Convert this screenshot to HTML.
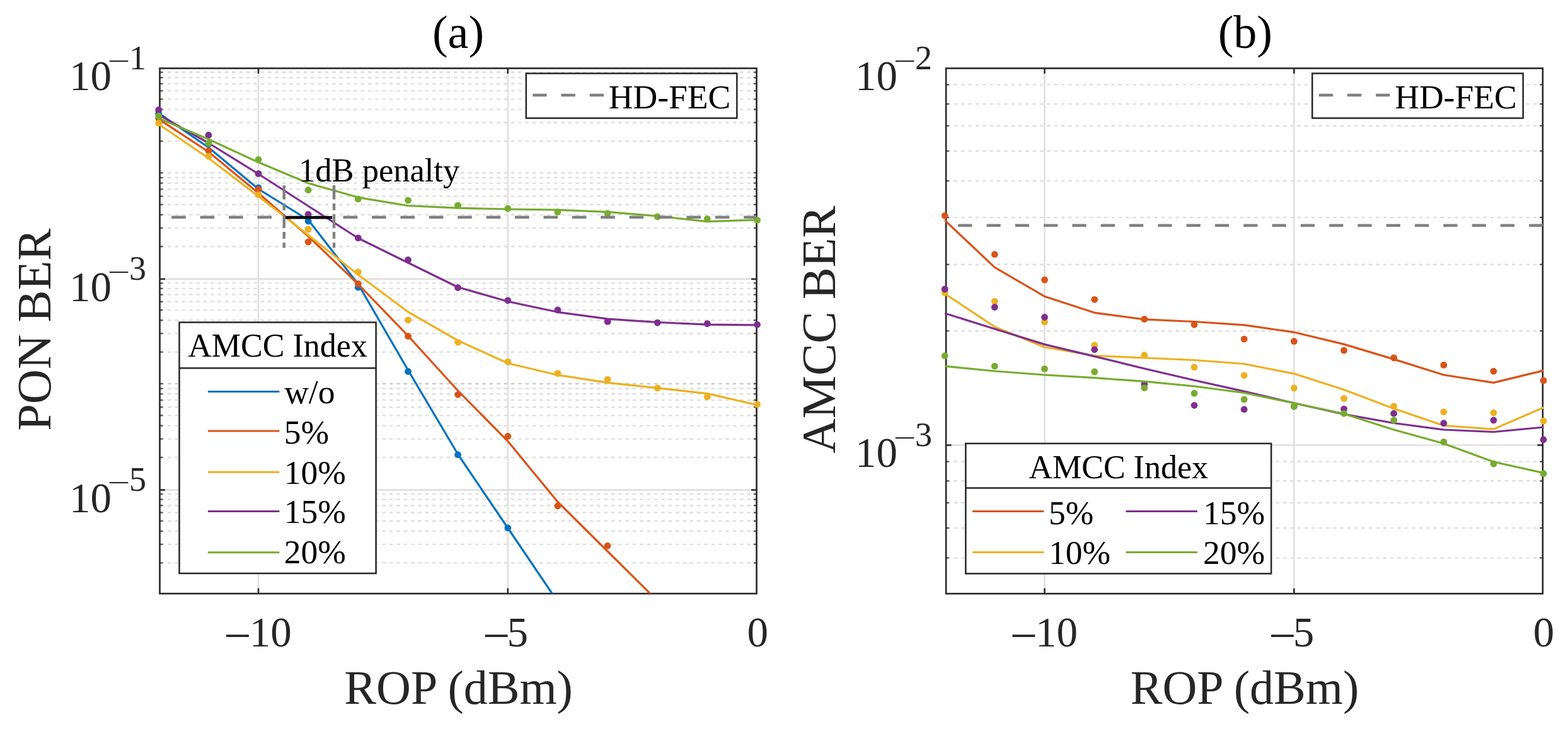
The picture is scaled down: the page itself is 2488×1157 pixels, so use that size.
<!DOCTYPE html>
<html><head><meta charset="utf-8"><title>BER plots</title>
<style>html,body{margin:0;padding:0;background:#fff;} svg{display:block;}</style>
</head><body>
<svg width="2488" height="1157" viewBox="0 0 2488 1157">
<rect width="100%" height="100%" fill="#fff"/>
<defs>
<clipPath id="ca"><rect x="239.5" y="108.4" width="975" height="833.7"/></clipPath>
<clipPath id="ca2"><rect x="253.5" y="108.4" width="947.0" height="833.7"/></clipPath>
<clipPath id="cb"><rect x="1487.1" y="108.4" width="974.8" height="833.8"/></clipPath>
</defs>
<line x1="253.5" y1="893.4" x2="1200.5" y2="893.4" stroke="#dedede" stroke-width="2.4" stroke-dasharray="5.5 5.85" stroke-dashoffset="-1.2"/>
<line x1="253.5" y1="863.9" x2="1200.5" y2="863.9" stroke="#dedede" stroke-width="2.4" stroke-dasharray="5.5 5.85" stroke-dashoffset="-1.2"/>
<line x1="253.5" y1="843" x2="1200.5" y2="843" stroke="#dedede" stroke-width="2.4" stroke-dasharray="5.5 5.85" stroke-dashoffset="-1.2"/>
<line x1="253.5" y1="826.8" x2="1200.5" y2="826.8" stroke="#dedede" stroke-width="2.4" stroke-dasharray="5.5 5.85" stroke-dashoffset="-1.2"/>
<line x1="253.5" y1="813.5" x2="1200.5" y2="813.5" stroke="#dedede" stroke-width="2.4" stroke-dasharray="5.5 5.85" stroke-dashoffset="-1.2"/>
<line x1="253.5" y1="802.3" x2="1200.5" y2="802.3" stroke="#dedede" stroke-width="2.4" stroke-dasharray="5.5 5.85" stroke-dashoffset="-1.2"/>
<line x1="253.5" y1="792.6" x2="1200.5" y2="792.6" stroke="#dedede" stroke-width="2.4" stroke-dasharray="5.5 5.85" stroke-dashoffset="-1.2"/>
<line x1="253.5" y1="784.1" x2="1200.5" y2="784.1" stroke="#dedede" stroke-width="2.4" stroke-dasharray="5.5 5.85" stroke-dashoffset="-1.2"/>
<line x1="253.5" y1="726" x2="1200.5" y2="726" stroke="#dedede" stroke-width="2.4" stroke-dasharray="5.5 5.85" stroke-dashoffset="-1.2"/>
<line x1="253.5" y1="696.6" x2="1200.5" y2="696.6" stroke="#dedede" stroke-width="2.4" stroke-dasharray="5.5 5.85" stroke-dashoffset="-1.2"/>
<line x1="253.5" y1="675.6" x2="1200.5" y2="675.6" stroke="#dedede" stroke-width="2.4" stroke-dasharray="5.5 5.85" stroke-dashoffset="-1.2"/>
<line x1="253.5" y1="659.4" x2="1200.5" y2="659.4" stroke="#dedede" stroke-width="2.4" stroke-dasharray="5.5 5.85" stroke-dashoffset="-1.2"/>
<line x1="253.5" y1="646.2" x2="1200.5" y2="646.2" stroke="#dedede" stroke-width="2.4" stroke-dasharray="5.5 5.85" stroke-dashoffset="-1.2"/>
<line x1="253.5" y1="635" x2="1200.5" y2="635" stroke="#dedede" stroke-width="2.4" stroke-dasharray="5.5 5.85" stroke-dashoffset="-1.2"/>
<line x1="253.5" y1="625.3" x2="1200.5" y2="625.3" stroke="#dedede" stroke-width="2.4" stroke-dasharray="5.5 5.85" stroke-dashoffset="-1.2"/>
<line x1="253.5" y1="616.7" x2="1200.5" y2="616.7" stroke="#dedede" stroke-width="2.4" stroke-dasharray="5.5 5.85" stroke-dashoffset="-1.2"/>
<line x1="253.5" y1="609" x2="1200.5" y2="609" stroke="#cbcbcb" stroke-width="2.4" stroke-dasharray="5.5 5.85" stroke-dashoffset="-1.2"/>
<line x1="253.5" y1="558.7" x2="1200.5" y2="558.7" stroke="#dedede" stroke-width="2.4" stroke-dasharray="5.5 5.85" stroke-dashoffset="-1.2"/>
<line x1="253.5" y1="529.2" x2="1200.5" y2="529.2" stroke="#dedede" stroke-width="2.4" stroke-dasharray="5.5 5.85" stroke-dashoffset="-1.2"/>
<line x1="253.5" y1="508.3" x2="1200.5" y2="508.3" stroke="#dedede" stroke-width="2.4" stroke-dasharray="5.5 5.85" stroke-dashoffset="-1.2"/>
<line x1="253.5" y1="492.1" x2="1200.5" y2="492.1" stroke="#dedede" stroke-width="2.4" stroke-dasharray="5.5 5.85" stroke-dashoffset="-1.2"/>
<line x1="253.5" y1="478.8" x2="1200.5" y2="478.8" stroke="#dedede" stroke-width="2.4" stroke-dasharray="5.5 5.85" stroke-dashoffset="-1.2"/>
<line x1="253.5" y1="467.6" x2="1200.5" y2="467.6" stroke="#dedede" stroke-width="2.4" stroke-dasharray="5.5 5.85" stroke-dashoffset="-1.2"/>
<line x1="253.5" y1="457.9" x2="1200.5" y2="457.9" stroke="#dedede" stroke-width="2.4" stroke-dasharray="5.5 5.85" stroke-dashoffset="-1.2"/>
<line x1="253.5" y1="449.4" x2="1200.5" y2="449.4" stroke="#dedede" stroke-width="2.4" stroke-dasharray="5.5 5.85" stroke-dashoffset="-1.2"/>
<line x1="253.5" y1="391.3" x2="1200.5" y2="391.3" stroke="#dedede" stroke-width="2.4" stroke-dasharray="5.5 5.85" stroke-dashoffset="-1.2"/>
<line x1="253.5" y1="361.9" x2="1200.5" y2="361.9" stroke="#dedede" stroke-width="2.4" stroke-dasharray="5.5 5.85" stroke-dashoffset="-1.2"/>
<line x1="253.5" y1="340.9" x2="1200.5" y2="340.9" stroke="#dedede" stroke-width="2.4" stroke-dasharray="5.5 5.85" stroke-dashoffset="-1.2"/>
<line x1="253.5" y1="324.7" x2="1200.5" y2="324.7" stroke="#dedede" stroke-width="2.4" stroke-dasharray="5.5 5.85" stroke-dashoffset="-1.2"/>
<line x1="253.5" y1="311.5" x2="1200.5" y2="311.5" stroke="#dedede" stroke-width="2.4" stroke-dasharray="5.5 5.85" stroke-dashoffset="-1.2"/>
<line x1="253.5" y1="300.3" x2="1200.5" y2="300.3" stroke="#dedede" stroke-width="2.4" stroke-dasharray="5.5 5.85" stroke-dashoffset="-1.2"/>
<line x1="253.5" y1="290.6" x2="1200.5" y2="290.6" stroke="#dedede" stroke-width="2.4" stroke-dasharray="5.5 5.85" stroke-dashoffset="-1.2"/>
<line x1="253.5" y1="282" x2="1200.5" y2="282" stroke="#dedede" stroke-width="2.4" stroke-dasharray="5.5 5.85" stroke-dashoffset="-1.2"/>
<line x1="253.5" y1="274.3" x2="1200.5" y2="274.3" stroke="#dedede" stroke-width="2.4" stroke-dasharray="5.5 5.85" stroke-dashoffset="-1.2"/>
<line x1="253.5" y1="224" x2="1200.5" y2="224" stroke="#dedede" stroke-width="2.4" stroke-dasharray="5.5 5.85" stroke-dashoffset="-1.2"/>
<line x1="253.5" y1="194.5" x2="1200.5" y2="194.5" stroke="#dedede" stroke-width="2.4" stroke-dasharray="5.5 5.85" stroke-dashoffset="-1.2"/>
<line x1="253.5" y1="173.6" x2="1200.5" y2="173.6" stroke="#dedede" stroke-width="2.4" stroke-dasharray="5.5 5.85" stroke-dashoffset="-1.2"/>
<line x1="253.5" y1="157.4" x2="1200.5" y2="157.4" stroke="#dedede" stroke-width="2.4" stroke-dasharray="5.5 5.85" stroke-dashoffset="-1.2"/>
<line x1="253.5" y1="144.1" x2="1200.5" y2="144.1" stroke="#dedede" stroke-width="2.4" stroke-dasharray="5.5 5.85" stroke-dashoffset="-1.2"/>
<line x1="253.5" y1="132.9" x2="1200.5" y2="132.9" stroke="#dedede" stroke-width="2.4" stroke-dasharray="5.5 5.85" stroke-dashoffset="-1.2"/>
<line x1="253.5" y1="123.2" x2="1200.5" y2="123.2" stroke="#dedede" stroke-width="2.4" stroke-dasharray="5.5 5.85" stroke-dashoffset="-1.2"/>
<line x1="253.5" y1="114.7" x2="1200.5" y2="114.7" stroke="#dedede" stroke-width="2.4" stroke-dasharray="5.5 5.85" stroke-dashoffset="-1.2"/>
<line x1="410" y1="108.4" x2="410" y2="942.1" stroke="#dfdfdf" stroke-width="2.6"/>
<line x1="805.8" y1="108.4" x2="805.8" y2="942.1" stroke="#dfdfdf" stroke-width="2.6"/>
<line x1="253.5" y1="442.9" x2="1200.5" y2="442.9" stroke="#dfdfdf" stroke-width="2.6"/>
<line x1="253.5" y1="777.6" x2="1200.5" y2="777.6" stroke="#dfdfdf" stroke-width="2.6"/>
<line x1="410" y1="942.1" x2="410" y2="933.6" stroke="#262626" stroke-width="2.5"/>
<line x1="410" y1="108.4" x2="410" y2="116.9" stroke="#262626" stroke-width="2.5"/>
<line x1="805.8" y1="942.1" x2="805.8" y2="933.6" stroke="#262626" stroke-width="2.5"/>
<line x1="805.8" y1="108.4" x2="805.8" y2="116.9" stroke="#262626" stroke-width="2.5"/>
<line x1="253.5" y1="442.9" x2="262" y2="442.9" stroke="#262626" stroke-width="2.5"/>
<line x1="1200.5" y1="442.9" x2="1192" y2="442.9" stroke="#262626" stroke-width="2.5"/>
<line x1="253.5" y1="777.6" x2="262" y2="777.6" stroke="#262626" stroke-width="2.5"/>
<line x1="1200.5" y1="777.6" x2="1192" y2="777.6" stroke="#262626" stroke-width="2.5"/>
<line x1="253.5" y1="893.4" x2="258.3" y2="893.4" stroke="#262626" stroke-width="2.3" opacity="0.75"/>
<line x1="1200.5" y1="893.4" x2="1195.7" y2="893.4" stroke="#262626" stroke-width="2.3" opacity="0.75"/>
<line x1="253.5" y1="863.9" x2="258.3" y2="863.9" stroke="#262626" stroke-width="2.3" opacity="0.75"/>
<line x1="1200.5" y1="863.9" x2="1195.7" y2="863.9" stroke="#262626" stroke-width="2.3" opacity="0.75"/>
<line x1="253.5" y1="843" x2="258.3" y2="843" stroke="#262626" stroke-width="2.3" opacity="0.75"/>
<line x1="1200.5" y1="843" x2="1195.7" y2="843" stroke="#262626" stroke-width="2.3" opacity="0.75"/>
<line x1="253.5" y1="826.8" x2="258.3" y2="826.8" stroke="#262626" stroke-width="2.3" opacity="0.75"/>
<line x1="1200.5" y1="826.8" x2="1195.7" y2="826.8" stroke="#262626" stroke-width="2.3" opacity="0.75"/>
<line x1="253.5" y1="813.5" x2="258.3" y2="813.5" stroke="#262626" stroke-width="2.3" opacity="0.75"/>
<line x1="1200.5" y1="813.5" x2="1195.7" y2="813.5" stroke="#262626" stroke-width="2.3" opacity="0.75"/>
<line x1="253.5" y1="802.3" x2="258.3" y2="802.3" stroke="#262626" stroke-width="2.3" opacity="0.75"/>
<line x1="1200.5" y1="802.3" x2="1195.7" y2="802.3" stroke="#262626" stroke-width="2.3" opacity="0.75"/>
<line x1="253.5" y1="792.6" x2="258.3" y2="792.6" stroke="#262626" stroke-width="2.3" opacity="0.75"/>
<line x1="1200.5" y1="792.6" x2="1195.7" y2="792.6" stroke="#262626" stroke-width="2.3" opacity="0.75"/>
<line x1="253.5" y1="784.1" x2="258.3" y2="784.1" stroke="#262626" stroke-width="2.3" opacity="0.75"/>
<line x1="1200.5" y1="784.1" x2="1195.7" y2="784.1" stroke="#262626" stroke-width="2.3" opacity="0.75"/>
<line x1="253.5" y1="726" x2="258.3" y2="726" stroke="#262626" stroke-width="2.3" opacity="0.75"/>
<line x1="1200.5" y1="726" x2="1195.7" y2="726" stroke="#262626" stroke-width="2.3" opacity="0.75"/>
<line x1="253.5" y1="696.6" x2="258.3" y2="696.6" stroke="#262626" stroke-width="2.3" opacity="0.75"/>
<line x1="1200.5" y1="696.6" x2="1195.7" y2="696.6" stroke="#262626" stroke-width="2.3" opacity="0.75"/>
<line x1="253.5" y1="675.6" x2="258.3" y2="675.6" stroke="#262626" stroke-width="2.3" opacity="0.75"/>
<line x1="1200.5" y1="675.6" x2="1195.7" y2="675.6" stroke="#262626" stroke-width="2.3" opacity="0.75"/>
<line x1="253.5" y1="659.4" x2="258.3" y2="659.4" stroke="#262626" stroke-width="2.3" opacity="0.75"/>
<line x1="1200.5" y1="659.4" x2="1195.7" y2="659.4" stroke="#262626" stroke-width="2.3" opacity="0.75"/>
<line x1="253.5" y1="646.2" x2="258.3" y2="646.2" stroke="#262626" stroke-width="2.3" opacity="0.75"/>
<line x1="1200.5" y1="646.2" x2="1195.7" y2="646.2" stroke="#262626" stroke-width="2.3" opacity="0.75"/>
<line x1="253.5" y1="635" x2="258.3" y2="635" stroke="#262626" stroke-width="2.3" opacity="0.75"/>
<line x1="1200.5" y1="635" x2="1195.7" y2="635" stroke="#262626" stroke-width="2.3" opacity="0.75"/>
<line x1="253.5" y1="625.3" x2="258.3" y2="625.3" stroke="#262626" stroke-width="2.3" opacity="0.75"/>
<line x1="1200.5" y1="625.3" x2="1195.7" y2="625.3" stroke="#262626" stroke-width="2.3" opacity="0.75"/>
<line x1="253.5" y1="616.7" x2="258.3" y2="616.7" stroke="#262626" stroke-width="2.3" opacity="0.75"/>
<line x1="1200.5" y1="616.7" x2="1195.7" y2="616.7" stroke="#262626" stroke-width="2.3" opacity="0.75"/>
<line x1="253.5" y1="609" x2="258.3" y2="609" stroke="#262626" stroke-width="2.3" opacity="0.75"/>
<line x1="1200.5" y1="609" x2="1195.7" y2="609" stroke="#262626" stroke-width="2.3" opacity="0.75"/>
<line x1="253.5" y1="558.7" x2="258.3" y2="558.7" stroke="#262626" stroke-width="2.3" opacity="0.75"/>
<line x1="1200.5" y1="558.7" x2="1195.7" y2="558.7" stroke="#262626" stroke-width="2.3" opacity="0.75"/>
<line x1="253.5" y1="529.2" x2="258.3" y2="529.2" stroke="#262626" stroke-width="2.3" opacity="0.75"/>
<line x1="1200.5" y1="529.2" x2="1195.7" y2="529.2" stroke="#262626" stroke-width="2.3" opacity="0.75"/>
<line x1="253.5" y1="508.3" x2="258.3" y2="508.3" stroke="#262626" stroke-width="2.3" opacity="0.75"/>
<line x1="1200.5" y1="508.3" x2="1195.7" y2="508.3" stroke="#262626" stroke-width="2.3" opacity="0.75"/>
<line x1="253.5" y1="492.1" x2="258.3" y2="492.1" stroke="#262626" stroke-width="2.3" opacity="0.75"/>
<line x1="1200.5" y1="492.1" x2="1195.7" y2="492.1" stroke="#262626" stroke-width="2.3" opacity="0.75"/>
<line x1="253.5" y1="478.8" x2="258.3" y2="478.8" stroke="#262626" stroke-width="2.3" opacity="0.75"/>
<line x1="1200.5" y1="478.8" x2="1195.7" y2="478.8" stroke="#262626" stroke-width="2.3" opacity="0.75"/>
<line x1="253.5" y1="467.6" x2="258.3" y2="467.6" stroke="#262626" stroke-width="2.3" opacity="0.75"/>
<line x1="1200.5" y1="467.6" x2="1195.7" y2="467.6" stroke="#262626" stroke-width="2.3" opacity="0.75"/>
<line x1="253.5" y1="457.9" x2="258.3" y2="457.9" stroke="#262626" stroke-width="2.3" opacity="0.75"/>
<line x1="1200.5" y1="457.9" x2="1195.7" y2="457.9" stroke="#262626" stroke-width="2.3" opacity="0.75"/>
<line x1="253.5" y1="449.4" x2="258.3" y2="449.4" stroke="#262626" stroke-width="2.3" opacity="0.75"/>
<line x1="1200.5" y1="449.4" x2="1195.7" y2="449.4" stroke="#262626" stroke-width="2.3" opacity="0.75"/>
<line x1="253.5" y1="391.3" x2="258.3" y2="391.3" stroke="#262626" stroke-width="2.3" opacity="0.75"/>
<line x1="1200.5" y1="391.3" x2="1195.7" y2="391.3" stroke="#262626" stroke-width="2.3" opacity="0.75"/>
<line x1="253.5" y1="361.9" x2="258.3" y2="361.9" stroke="#262626" stroke-width="2.3" opacity="0.75"/>
<line x1="1200.5" y1="361.9" x2="1195.7" y2="361.9" stroke="#262626" stroke-width="2.3" opacity="0.75"/>
<line x1="253.5" y1="340.9" x2="258.3" y2="340.9" stroke="#262626" stroke-width="2.3" opacity="0.75"/>
<line x1="1200.5" y1="340.9" x2="1195.7" y2="340.9" stroke="#262626" stroke-width="2.3" opacity="0.75"/>
<line x1="253.5" y1="324.7" x2="258.3" y2="324.7" stroke="#262626" stroke-width="2.3" opacity="0.75"/>
<line x1="1200.5" y1="324.7" x2="1195.7" y2="324.7" stroke="#262626" stroke-width="2.3" opacity="0.75"/>
<line x1="253.5" y1="311.5" x2="258.3" y2="311.5" stroke="#262626" stroke-width="2.3" opacity="0.75"/>
<line x1="1200.5" y1="311.5" x2="1195.7" y2="311.5" stroke="#262626" stroke-width="2.3" opacity="0.75"/>
<line x1="253.5" y1="300.3" x2="258.3" y2="300.3" stroke="#262626" stroke-width="2.3" opacity="0.75"/>
<line x1="1200.5" y1="300.3" x2="1195.7" y2="300.3" stroke="#262626" stroke-width="2.3" opacity="0.75"/>
<line x1="253.5" y1="290.6" x2="258.3" y2="290.6" stroke="#262626" stroke-width="2.3" opacity="0.75"/>
<line x1="1200.5" y1="290.6" x2="1195.7" y2="290.6" stroke="#262626" stroke-width="2.3" opacity="0.75"/>
<line x1="253.5" y1="282" x2="258.3" y2="282" stroke="#262626" stroke-width="2.3" opacity="0.75"/>
<line x1="1200.5" y1="282" x2="1195.7" y2="282" stroke="#262626" stroke-width="2.3" opacity="0.75"/>
<line x1="253.5" y1="274.3" x2="258.3" y2="274.3" stroke="#262626" stroke-width="2.3" opacity="0.75"/>
<line x1="1200.5" y1="274.3" x2="1195.7" y2="274.3" stroke="#262626" stroke-width="2.3" opacity="0.75"/>
<line x1="253.5" y1="224" x2="258.3" y2="224" stroke="#262626" stroke-width="2.3" opacity="0.75"/>
<line x1="1200.5" y1="224" x2="1195.7" y2="224" stroke="#262626" stroke-width="2.3" opacity="0.75"/>
<line x1="253.5" y1="194.5" x2="258.3" y2="194.5" stroke="#262626" stroke-width="2.3" opacity="0.75"/>
<line x1="1200.5" y1="194.5" x2="1195.7" y2="194.5" stroke="#262626" stroke-width="2.3" opacity="0.75"/>
<line x1="253.5" y1="173.6" x2="258.3" y2="173.6" stroke="#262626" stroke-width="2.3" opacity="0.75"/>
<line x1="1200.5" y1="173.6" x2="1195.7" y2="173.6" stroke="#262626" stroke-width="2.3" opacity="0.75"/>
<line x1="253.5" y1="157.4" x2="258.3" y2="157.4" stroke="#262626" stroke-width="2.3" opacity="0.75"/>
<line x1="1200.5" y1="157.4" x2="1195.7" y2="157.4" stroke="#262626" stroke-width="2.3" opacity="0.75"/>
<line x1="253.5" y1="144.1" x2="258.3" y2="144.1" stroke="#262626" stroke-width="2.3" opacity="0.75"/>
<line x1="1200.5" y1="144.1" x2="1195.7" y2="144.1" stroke="#262626" stroke-width="2.3" opacity="0.75"/>
<line x1="253.5" y1="132.9" x2="258.3" y2="132.9" stroke="#262626" stroke-width="2.3" opacity="0.75"/>
<line x1="1200.5" y1="132.9" x2="1195.7" y2="132.9" stroke="#262626" stroke-width="2.3" opacity="0.75"/>
<line x1="253.5" y1="123.2" x2="258.3" y2="123.2" stroke="#262626" stroke-width="2.3" opacity="0.75"/>
<line x1="1200.5" y1="123.2" x2="1195.7" y2="123.2" stroke="#262626" stroke-width="2.3" opacity="0.75"/>
<line x1="253.5" y1="114.7" x2="258.3" y2="114.7" stroke="#262626" stroke-width="2.3" opacity="0.75"/>
<line x1="1200.5" y1="114.7" x2="1195.7" y2="114.7" stroke="#262626" stroke-width="2.3" opacity="0.75"/>
<rect x="253.5" y="108.4" width="947" height="833.7" fill="none" stroke="#262626" stroke-width="2.6"/>
<g clip-path="url(#ca)">
<circle cx="251.7" cy="180.5" r="5.4" fill="#0072BD"/>
<circle cx="330.9" cy="229" r="5.4" fill="#0072BD"/>
<circle cx="410" cy="298" r="5.4" fill="#0072BD"/>
<circle cx="489.1" cy="351" r="5.4" fill="#0072BD"/>
<circle cx="568.3" cy="456" r="5.4" fill="#0072BD"/>
<circle cx="647.5" cy="589.5" r="5.4" fill="#0072BD"/>
<circle cx="726.6" cy="721.7" r="5.4" fill="#0072BD"/>
<circle cx="805.8" cy="837.8" r="5.4" fill="#0072BD"/>
<polyline points="251.7,179.5 330.9,234 410,300 489.1,349 568.3,451 647.5,587.5 726.6,721 805.8,838 884.9,955" fill="none" stroke="#0072BD" stroke-width="3.2" stroke-linejoin="round"/>
</g>
<g clip-path="url(#ca)">
<circle cx="251.7" cy="187.5" r="5.4" fill="#D95319"/>
<circle cx="330.9" cy="239.3" r="5.4" fill="#D95319"/>
<circle cx="410" cy="300.7" r="5.4" fill="#D95319"/>
<circle cx="489.1" cy="384" r="5.4" fill="#D95319"/>
<circle cx="568.3" cy="450.4" r="5.4" fill="#D95319"/>
<circle cx="647.5" cy="533.5" r="5.4" fill="#D95319"/>
<circle cx="726.6" cy="626.3" r="5.4" fill="#D95319"/>
<circle cx="805.8" cy="692.5" r="5.4" fill="#D95319"/>
<circle cx="884.9" cy="803" r="5.4" fill="#D95319"/>
<circle cx="964.1" cy="866.2" r="5.4" fill="#D95319"/>
<polyline points="251.7,189 330.9,241 410,306.5 489.1,375 568.3,451 647.5,533 726.6,620 805.8,700.3 884.9,796.5 964.1,875 1043.2,953.5" fill="none" stroke="#D95319" stroke-width="3.2" stroke-linejoin="round"/>
</g>
<g clip-path="url(#ca)">
<circle cx="251.7" cy="195.4" r="5.4" fill="#EDB120"/>
<circle cx="330.9" cy="248" r="5.4" fill="#EDB120"/>
<circle cx="410" cy="309" r="5.4" fill="#EDB120"/>
<circle cx="489.1" cy="364" r="5.4" fill="#EDB120"/>
<circle cx="568.3" cy="431.7" r="5.4" fill="#EDB120"/>
<circle cx="647.5" cy="508" r="5.4" fill="#EDB120"/>
<circle cx="726.6" cy="543.3" r="5.4" fill="#EDB120"/>
<circle cx="805.8" cy="574.2" r="5.4" fill="#EDB120"/>
<circle cx="884.9" cy="592.6" r="5.4" fill="#EDB120"/>
<circle cx="964.1" cy="602.1" r="5.4" fill="#EDB120"/>
<circle cx="1043.2" cy="615.9" r="5.4" fill="#EDB120"/>
<circle cx="1122.3" cy="629.7" r="5.4" fill="#EDB120"/>
<circle cx="1201.5" cy="641.8" r="5.4" fill="#EDB120"/>
<polyline points="251.7,197 330.9,251 410,311.5 489.1,373 568.3,436 647.5,495 726.6,540.5 805.8,576.5 884.9,595.2 964.1,607.3 1043.2,615.9 1122.3,624.6 1201.5,642.7" fill="none" stroke="#EDB120" stroke-width="3.2" stroke-linejoin="round"/>
</g>
<g clip-path="url(#ca)">
<circle cx="251.7" cy="174.5" r="5.4" fill="#7E2F8E"/>
<circle cx="330.9" cy="214.5" r="5.4" fill="#7E2F8E"/>
<circle cx="410" cy="275.6" r="5.4" fill="#7E2F8E"/>
<circle cx="489.1" cy="340.2" r="5.4" fill="#7E2F8E"/>
<circle cx="568.3" cy="377.6" r="5.4" fill="#7E2F8E"/>
<circle cx="647.5" cy="412.5" r="5.4" fill="#7E2F8E"/>
<circle cx="726.6" cy="456.5" r="5.4" fill="#7E2F8E"/>
<circle cx="805.8" cy="476.8" r="5.4" fill="#7E2F8E"/>
<circle cx="884.9" cy="492" r="5.4" fill="#7E2F8E"/>
<circle cx="964.1" cy="510.4" r="5.4" fill="#7E2F8E"/>
<circle cx="1043.2" cy="512.1" r="5.4" fill="#7E2F8E"/>
<circle cx="1122.3" cy="513.6" r="5.4" fill="#7E2F8E"/>
<circle cx="1201.5" cy="515.2" r="5.4" fill="#7E2F8E"/>
<polyline points="251.7,182 330.9,227 410,276 489.1,327 568.3,378 647.5,417 726.6,455.8 805.8,478.5 884.9,495.3 964.1,506.1 1043.2,511.5 1122.3,515.2 1201.5,515.8" fill="none" stroke="#7E2F8E" stroke-width="3.2" stroke-linejoin="round"/>
</g>
<g clip-path="url(#ca)">
<circle cx="251.7" cy="184.2" r="5.4" fill="#77AC30"/>
<circle cx="330.9" cy="227.4" r="5.4" fill="#77AC30"/>
<circle cx="410" cy="253.2" r="5.4" fill="#77AC30"/>
<circle cx="489.1" cy="301.5" r="5.4" fill="#77AC30"/>
<circle cx="568.3" cy="315.9" r="5.4" fill="#77AC30"/>
<circle cx="647.5" cy="318" r="5.4" fill="#77AC30"/>
<circle cx="726.6" cy="326" r="5.4" fill="#77AC30"/>
<circle cx="805.8" cy="331" r="5.4" fill="#77AC30"/>
<circle cx="884.9" cy="336.5" r="5.4" fill="#77AC30"/>
<circle cx="964.1" cy="338.6" r="5.4" fill="#77AC30"/>
<circle cx="1043.2" cy="344" r="5.4" fill="#77AC30"/>
<circle cx="1122.3" cy="347.3" r="5.4" fill="#77AC30"/>
<circle cx="1201.5" cy="349.4" r="5.4" fill="#77AC30"/>
<polyline points="251.7,187.7 330.9,221 410,257.6 489.1,290.8 568.3,313.3 647.5,326.5 726.6,330.2 805.8,332 884.9,333.2 964.1,336.3 1043.2,343 1122.3,351.6 1201.5,348.8" fill="none" stroke="#77AC30" stroke-width="3.2" stroke-linejoin="round"/>
</g>
<g clip-path="url(#ca2)"><line x1="249.6" y1="344.8" x2="1205" y2="344.8" stroke="#808080" stroke-width="4.4" stroke-dasharray="22.6 22.8" stroke-dashoffset="22.8"/></g>
<line x1="450.7" y1="294.1" x2="450.7" y2="316.6" stroke="#808080" stroke-width="4.4"/>
<line x1="450.7" y1="322.9" x2="450.7" y2="333.8" stroke="#808080" stroke-width="4.4"/>
<line x1="450.7" y1="340.0" x2="450.7" y2="361.8" stroke="#808080" stroke-width="4.4"/>
<line x1="450.7" y1="368.0" x2="450.7" y2="378.9" stroke="#808080" stroke-width="4.4"/>
<line x1="450.7" y1="385.1" x2="450.7" y2="393.4" stroke="#808080" stroke-width="4.4"/>
<line x1="530.0" y1="294.1" x2="530.0" y2="316.6" stroke="#808080" stroke-width="4.4"/>
<line x1="530.0" y1="322.9" x2="530.0" y2="333.8" stroke="#808080" stroke-width="4.4"/>
<line x1="530.0" y1="340.0" x2="530.0" y2="361.8" stroke="#808080" stroke-width="4.4"/>
<line x1="530.0" y1="368.0" x2="530.0" y2="378.9" stroke="#808080" stroke-width="4.4"/>
<line x1="530.0" y1="385.1" x2="530.0" y2="393.4" stroke="#808080" stroke-width="4.4"/>
<line x1="453" y1="345.2" x2="527" y2="345.2" stroke="#000" stroke-width="4.6"/>
<text x="474" y="287.8" font-size="52.5" fill="#000" font-family="Liberation Serif, 'Times New Roman', serif">1dB penalty</text>
<line x1="1501.1" y1="885.4" x2="2447.9" y2="885.4" stroke="#dedede" stroke-width="2.4" stroke-dasharray="5.5 5.85" stroke-dashoffset="-1.2"/>
<line x1="1501.1" y1="838" x2="2447.9" y2="838" stroke="#dedede" stroke-width="2.4" stroke-dasharray="5.5 5.85" stroke-dashoffset="-1.2"/>
<line x1="1501.1" y1="798" x2="2447.9" y2="798" stroke="#dedede" stroke-width="2.4" stroke-dasharray="5.5 5.85" stroke-dashoffset="-1.2"/>
<line x1="1501.1" y1="763.3" x2="2447.9" y2="763.3" stroke="#dedede" stroke-width="2.4" stroke-dasharray="5.5 5.85" stroke-dashoffset="-1.2"/>
<line x1="1501.1" y1="732.7" x2="2447.9" y2="732.7" stroke="#dedede" stroke-width="2.4" stroke-dasharray="5.5 5.85" stroke-dashoffset="-1.2"/>
<line x1="1501.1" y1="525.2" x2="2447.9" y2="525.2" stroke="#dedede" stroke-width="2.4" stroke-dasharray="5.5 5.85" stroke-dashoffset="-1.2"/>
<line x1="1501.1" y1="419.8" x2="2447.9" y2="419.8" stroke="#dedede" stroke-width="2.4" stroke-dasharray="5.5 5.85" stroke-dashoffset="-1.2"/>
<line x1="1501.1" y1="345.1" x2="2447.9" y2="345.1" stroke="#dedede" stroke-width="2.4" stroke-dasharray="5.5 5.85" stroke-dashoffset="-1.2"/>
<line x1="1501.1" y1="287.1" x2="2447.9" y2="287.1" stroke="#dedede" stroke-width="2.4" stroke-dasharray="5.5 5.85" stroke-dashoffset="-1.2"/>
<line x1="1501.1" y1="239.7" x2="2447.9" y2="239.7" stroke="#dedede" stroke-width="2.4" stroke-dasharray="5.5 5.85" stroke-dashoffset="-1.2"/>
<line x1="1501.1" y1="199.7" x2="2447.9" y2="199.7" stroke="#dedede" stroke-width="2.4" stroke-dasharray="5.5 5.85" stroke-dashoffset="-1.2"/>
<line x1="1501.1" y1="165" x2="2447.9" y2="165" stroke="#dedede" stroke-width="2.4" stroke-dasharray="5.5 5.85" stroke-dashoffset="-1.2"/>
<line x1="1501.1" y1="134.4" x2="2447.9" y2="134.4" stroke="#dedede" stroke-width="2.4" stroke-dasharray="5.5 5.85" stroke-dashoffset="-1.2"/>
<line x1="1657.5" y1="108.4" x2="1657.5" y2="942.2" stroke="#dfdfdf" stroke-width="2.6"/>
<line x1="2053.3" y1="108.4" x2="2053.3" y2="942.2" stroke="#dfdfdf" stroke-width="2.6"/>
<line x1="1501.1" y1="706.5" x2="2447.9" y2="706.5" stroke="#dfdfdf" stroke-width="2.6"/>
<line x1="1657.5" y1="942.2" x2="1657.5" y2="933.7" stroke="#262626" stroke-width="2.5"/>
<line x1="1657.5" y1="108.4" x2="1657.5" y2="116.9" stroke="#262626" stroke-width="2.5"/>
<line x1="2053.3" y1="942.2" x2="2053.3" y2="933.7" stroke="#262626" stroke-width="2.5"/>
<line x1="2053.3" y1="108.4" x2="2053.3" y2="116.9" stroke="#262626" stroke-width="2.5"/>
<line x1="1501.1" y1="706.5" x2="1509.6" y2="706.5" stroke="#262626" stroke-width="2.5"/>
<line x1="2447.9" y1="706.5" x2="2439.4" y2="706.5" stroke="#262626" stroke-width="2.5"/>
<line x1="1501.1" y1="885.4" x2="1505.9" y2="885.4" stroke="#262626" stroke-width="2.3" opacity="0.75"/>
<line x1="2447.9" y1="885.4" x2="2443.1" y2="885.4" stroke="#262626" stroke-width="2.3" opacity="0.75"/>
<line x1="1501.1" y1="838" x2="1505.9" y2="838" stroke="#262626" stroke-width="2.3" opacity="0.75"/>
<line x1="2447.9" y1="838" x2="2443.1" y2="838" stroke="#262626" stroke-width="2.3" opacity="0.75"/>
<line x1="1501.1" y1="798" x2="1505.9" y2="798" stroke="#262626" stroke-width="2.3" opacity="0.75"/>
<line x1="2447.9" y1="798" x2="2443.1" y2="798" stroke="#262626" stroke-width="2.3" opacity="0.75"/>
<line x1="1501.1" y1="763.3" x2="1505.9" y2="763.3" stroke="#262626" stroke-width="2.3" opacity="0.75"/>
<line x1="2447.9" y1="763.3" x2="2443.1" y2="763.3" stroke="#262626" stroke-width="2.3" opacity="0.75"/>
<line x1="1501.1" y1="732.7" x2="1505.9" y2="732.7" stroke="#262626" stroke-width="2.3" opacity="0.75"/>
<line x1="2447.9" y1="732.7" x2="2443.1" y2="732.7" stroke="#262626" stroke-width="2.3" opacity="0.75"/>
<line x1="1501.1" y1="525.2" x2="1505.9" y2="525.2" stroke="#262626" stroke-width="2.3" opacity="0.75"/>
<line x1="2447.9" y1="525.2" x2="2443.1" y2="525.2" stroke="#262626" stroke-width="2.3" opacity="0.75"/>
<line x1="1501.1" y1="419.8" x2="1505.9" y2="419.8" stroke="#262626" stroke-width="2.3" opacity="0.75"/>
<line x1="2447.9" y1="419.8" x2="2443.1" y2="419.8" stroke="#262626" stroke-width="2.3" opacity="0.75"/>
<line x1="1501.1" y1="345.1" x2="1505.9" y2="345.1" stroke="#262626" stroke-width="2.3" opacity="0.75"/>
<line x1="2447.9" y1="345.1" x2="2443.1" y2="345.1" stroke="#262626" stroke-width="2.3" opacity="0.75"/>
<line x1="1501.1" y1="287.1" x2="1505.9" y2="287.1" stroke="#262626" stroke-width="2.3" opacity="0.75"/>
<line x1="2447.9" y1="287.1" x2="2443.1" y2="287.1" stroke="#262626" stroke-width="2.3" opacity="0.75"/>
<line x1="1501.1" y1="239.7" x2="1505.9" y2="239.7" stroke="#262626" stroke-width="2.3" opacity="0.75"/>
<line x1="2447.9" y1="239.7" x2="2443.1" y2="239.7" stroke="#262626" stroke-width="2.3" opacity="0.75"/>
<line x1="1501.1" y1="199.7" x2="1505.9" y2="199.7" stroke="#262626" stroke-width="2.3" opacity="0.75"/>
<line x1="2447.9" y1="199.7" x2="2443.1" y2="199.7" stroke="#262626" stroke-width="2.3" opacity="0.75"/>
<line x1="1501.1" y1="165" x2="1505.9" y2="165" stroke="#262626" stroke-width="2.3" opacity="0.75"/>
<line x1="2447.9" y1="165" x2="2443.1" y2="165" stroke="#262626" stroke-width="2.3" opacity="0.75"/>
<line x1="1501.1" y1="134.4" x2="1505.9" y2="134.4" stroke="#262626" stroke-width="2.3" opacity="0.75"/>
<line x1="2447.9" y1="134.4" x2="2443.1" y2="134.4" stroke="#262626" stroke-width="2.3" opacity="0.75"/>
<rect x="1501.1" y="108.4" width="946.8" height="833.8" fill="none" stroke="#262626" stroke-width="2.6"/>
<g clip-path="url(#cb)">
<circle cx="1499.2" cy="342.3" r="5.4" fill="#D95319"/>
<circle cx="1578.3" cy="403.7" r="5.4" fill="#D95319"/>
<circle cx="1657.5" cy="444.1" r="5.4" fill="#D95319"/>
<circle cx="1736.7" cy="475.3" r="5.4" fill="#D95319"/>
<circle cx="1815.8" cy="506.5" r="5.4" fill="#D95319"/>
<circle cx="1895" cy="515.3" r="5.4" fill="#D95319"/>
<circle cx="1974.1" cy="538.1" r="5.4" fill="#D95319"/>
<circle cx="2053.3" cy="541.6" r="5.4" fill="#D95319"/>
<circle cx="2132.5" cy="556.1" r="5.4" fill="#D95319"/>
<circle cx="2211.6" cy="568" r="5.4" fill="#D95319"/>
<circle cx="2290.8" cy="579.4" r="5.4" fill="#D95319"/>
<circle cx="2369.9" cy="589.2" r="5.4" fill="#D95319"/>
<circle cx="2449.1" cy="603.9" r="5.4" fill="#D95319"/>
<polyline points="1499.2,349.6 1578.3,424.4 1657.5,470.4 1736.7,496.3 1815.8,506.8 1895,510.5 1974.1,515.8 2053.3,527.3 2132.5,546.4 2211.6,570.1 2290.8,595 2369.9,607.4 2449.1,588.1" fill="none" stroke="#D95319" stroke-width="3.2" stroke-linejoin="round"/>
</g>
<g clip-path="url(#cb)">
<circle cx="1499.2" cy="464.5" r="5.4" fill="#EDB120"/>
<circle cx="1578.3" cy="478.3" r="5.4" fill="#EDB120"/>
<circle cx="1657.5" cy="511" r="5.4" fill="#EDB120"/>
<circle cx="1736.7" cy="548" r="5.4" fill="#EDB120"/>
<circle cx="1815.8" cy="563.7" r="5.4" fill="#EDB120"/>
<circle cx="1895" cy="582.7" r="5.4" fill="#EDB120"/>
<circle cx="1974.1" cy="595.8" r="5.4" fill="#EDB120"/>
<circle cx="2053.3" cy="615.9" r="5.4" fill="#EDB120"/>
<circle cx="2132.5" cy="632.5" r="5.4" fill="#EDB120"/>
<circle cx="2211.6" cy="644.8" r="5.4" fill="#EDB120"/>
<circle cx="2290.8" cy="653.7" r="5.4" fill="#EDB120"/>
<circle cx="2369.9" cy="655.1" r="5.4" fill="#EDB120"/>
<circle cx="2449.1" cy="668.2" r="5.4" fill="#EDB120"/>
<polyline points="1499.2,466.1 1578.3,518.7 1657.5,551 1736.7,564.5 1815.8,568 1895,571.5 1974.1,577.5 2053.3,593.1 2132.5,618.5 2211.6,648.5 2290.8,675.5 2369.9,681.1 2449.1,646.8" fill="none" stroke="#EDB120" stroke-width="3.2" stroke-linejoin="round"/>
</g>
<g clip-path="url(#cb)">
<circle cx="1499.2" cy="458.9" r="5.4" fill="#7E2F8E"/>
<circle cx="1578.3" cy="487.5" r="5.4" fill="#7E2F8E"/>
<circle cx="1657.5" cy="503.5" r="5.4" fill="#7E2F8E"/>
<circle cx="1736.7" cy="554.8" r="5.4" fill="#7E2F8E"/>
<circle cx="1815.8" cy="609.7" r="5.4" fill="#7E2F8E"/>
<circle cx="1895" cy="643.3" r="5.4" fill="#7E2F8E"/>
<circle cx="1974.1" cy="649.7" r="5.4" fill="#7E2F8E"/>
<circle cx="2053.3" cy="645" r="5.4" fill="#7E2F8E"/>
<circle cx="2132.5" cy="649.1" r="5.4" fill="#7E2F8E"/>
<circle cx="2211.6" cy="656.2" r="5.4" fill="#7E2F8E"/>
<circle cx="2290.8" cy="671.7" r="5.4" fill="#7E2F8E"/>
<circle cx="2369.9" cy="667" r="5.4" fill="#7E2F8E"/>
<circle cx="2449.1" cy="697.7" r="5.4" fill="#7E2F8E"/>
<polyline points="1499.2,497.3 1578.3,522 1657.5,546.6 1736.7,565.6 1815.8,585 1895,603.5 1974.1,621.1 2053.3,639.8 2132.5,657.4 2211.6,671.5 2290.8,682 2369.9,685.5 2449.1,678" fill="none" stroke="#7E2F8E" stroke-width="3.2" stroke-linejoin="round"/>
</g>
<g clip-path="url(#cb)">
<circle cx="1499.2" cy="564.7" r="5.4" fill="#77AC30"/>
<circle cx="1578.3" cy="581.1" r="5.4" fill="#77AC30"/>
<circle cx="1657.5" cy="585.4" r="5.4" fill="#77AC30"/>
<circle cx="1736.7" cy="590" r="5.4" fill="#77AC30"/>
<circle cx="1815.8" cy="615.6" r="5.4" fill="#77AC30"/>
<circle cx="1895" cy="624.2" r="5.4" fill="#77AC30"/>
<circle cx="1974.1" cy="633.9" r="5.4" fill="#77AC30"/>
<circle cx="2053.3" cy="645" r="5.4" fill="#77AC30"/>
<circle cx="2132.5" cy="656.3" r="5.4" fill="#77AC30"/>
<circle cx="2211.6" cy="667" r="5.4" fill="#77AC30"/>
<circle cx="2290.8" cy="701.4" r="5.4" fill="#77AC30"/>
<circle cx="2369.9" cy="736.1" r="5.4" fill="#77AC30"/>
<circle cx="2449.1" cy="751.6" r="5.4" fill="#77AC30"/>
<polyline points="1499.2,581.1 1578.3,589 1657.5,595 1736.7,599.7 1815.8,605.4 1895,613 1974.1,623.5 2053.3,639.8 2132.5,656.8 2211.6,682 2290.8,703.9 2369.9,733 2449.1,750.6" fill="none" stroke="#77AC30" stroke-width="3.2" stroke-linejoin="round"/>
</g>
<line x1="1501.1" y1="357.8" x2="2447.9" y2="357.8" stroke="#808080" stroke-width="4.4" stroke-dasharray="22.2 23.1" stroke-dashoffset="26.2"/>
<text x="355.1" y="1034.6" font-size="77.2" fill="#262626" font-family="Liberation Serif, 'Times New Roman', serif">&#8722;</text>
<text x="395.7" y="1025.8" font-size="67" fill="#262626" font-family="Liberation Serif, 'Times New Roman', serif">10</text>
<text x="765.8" y="1034.6" font-size="77.2" fill="#262626" font-family="Liberation Serif, 'Times New Roman', serif">&#8722;</text>
<text x="804.5" y="1025.8" font-size="67" fill="#262626" font-family="Liberation Serif, 'Times New Roman', serif">5</text>
<text x="1185.5" y="1025.8" font-size="67" fill="#262626" font-family="Liberation Serif, 'Times New Roman', serif">0</text>
<text x="1602.4" y="1034.6" font-size="77.2" fill="#262626" font-family="Liberation Serif, 'Times New Roman', serif">&#8722;</text>
<text x="1643" y="1025.8" font-size="67" fill="#262626" font-family="Liberation Serif, 'Times New Roman', serif">10</text>
<text x="2013.1" y="1034.6" font-size="77.2" fill="#262626" font-family="Liberation Serif, 'Times New Roman', serif">&#8722;</text>
<text x="2051.8" y="1025.8" font-size="67" fill="#262626" font-family="Liberation Serif, 'Times New Roman', serif">5</text>
<text x="2432.8" y="1025.8" font-size="67" fill="#262626" font-family="Liberation Serif, 'Times New Roman', serif">0</text>
<text x="110" y="143.3" font-size="67" fill="#262626" font-family="Liberation Serif, 'Times New Roman', serif">10</text>
<text transform="translate(170.7,111.1) scale(1.510,1)" font-size="42" fill="#262626" font-family="Liberation Serif, 'Times New Roman', serif">&#8722;</text>
<text x="205" y="109.6" font-size="54" fill="#262626" font-family="Liberation Serif, 'Times New Roman', serif">1</text>
<text x="110" y="477.8" font-size="67" fill="#262626" font-family="Liberation Serif, 'Times New Roman', serif">10</text>
<text transform="translate(170.7,445.6) scale(1.510,1)" font-size="42" fill="#262626" font-family="Liberation Serif, 'Times New Roman', serif">&#8722;</text>
<text x="205" y="444.1" font-size="54" fill="#262626" font-family="Liberation Serif, 'Times New Roman', serif">3</text>
<text x="110" y="812.5" font-size="67" fill="#262626" font-family="Liberation Serif, 'Times New Roman', serif">10</text>
<text transform="translate(170.7,780.3) scale(1.510,1)" font-size="42" fill="#262626" font-family="Liberation Serif, 'Times New Roman', serif">&#8722;</text>
<text x="205" y="778.8" font-size="54" fill="#262626" font-family="Liberation Serif, 'Times New Roman', serif">5</text>
<text x="1357" y="143.3" font-size="67" fill="#262626" font-family="Liberation Serif, 'Times New Roman', serif">10</text>
<text transform="translate(1417.7,111.1) scale(1.510,1)" font-size="42" fill="#262626" font-family="Liberation Serif, 'Times New Roman', serif">&#8722;</text>
<text x="1452" y="109.6" font-size="54" fill="#262626" font-family="Liberation Serif, 'Times New Roman', serif">2</text>
<text x="1357" y="741.4" font-size="67" fill="#262626" font-family="Liberation Serif, 'Times New Roman', serif">10</text>
<text transform="translate(1417.7,709.2) scale(1.510,1)" font-size="42" fill="#262626" font-family="Liberation Serif, 'Times New Roman', serif">&#8722;</text>
<text x="1452" y="707.7" font-size="54" fill="#262626" font-family="Liberation Serif, 'Times New Roman', serif">3</text>
<text x="727.6" y="1117.2" font-size="76" text-anchor="middle" fill="#262626" font-family="Liberation Serif, 'Times New Roman', serif">ROP (dBm)</text>
<text x="1975" y="1116.5" font-size="76" text-anchor="middle" fill="#262626" font-family="Liberation Serif, 'Times New Roman', serif">ROP (dBm)</text>
<text transform="translate(80,523.3) rotate(-90)" font-size="76.5" text-anchor="middle" fill="#262626" font-family="Liberation Serif, 'Times New Roman', serif">PON BER</text>
<text transform="translate(1325,523) rotate(-90)" font-size="76.5" text-anchor="middle" fill="#262626" font-family="Liberation Serif, 'Times New Roman', serif">AMCC BER</text>
<text x="727" y="76.4" font-size="74" text-anchor="middle" fill="#000" font-family="Liberation Serif, 'Times New Roman', serif">(a)</text>
<text x="1975.8" y="76.4" font-size="74" text-anchor="middle" fill="#000" font-family="Liberation Serif, 'Times New Roman', serif">(b)</text>
<rect x="834.8" y="116.5" width="334.5" height="71" fill="#fff" stroke="#262626" stroke-width="2.5"/>
<line x1="845.3" y1="151" x2="958.3" y2="151" stroke="#808080" stroke-width="4.4" stroke-dasharray="22.3 22.9"/>
<text x="965.8" y="171.5" font-size="53.6" fill="#000" font-family="Liberation Serif, 'Times New Roman', serif">HD-FEC</text>
<rect x="2082.2" y="116.5" width="334.5" height="71" fill="#fff" stroke="#262626" stroke-width="2.5"/>
<line x1="2092.7" y1="151" x2="2205.7" y2="151" stroke="#808080" stroke-width="4.4" stroke-dasharray="22.3 22.9"/>
<text x="2213.2" y="171.5" font-size="53.6" fill="#000" font-family="Liberation Serif, 'Times New Roman', serif">HD-FEC</text>
<rect x="284.5" y="511.6" width="312.1" height="398.4" fill="#fff" stroke="#262626" stroke-width="2.5"/>
<line x1="284.5" y1="584.2" x2="596.6" y2="584.2" stroke="#262626" stroke-width="2.5"/>
<text x="440.6" y="566" font-size="52" text-anchor="middle" fill="#000" font-family="Liberation Serif, 'Times New Roman', serif">AMCC Index</text>
<line x1="329.9" y1="621.6" x2="443.4" y2="621.6" stroke="#0072BD" stroke-width="3"/>
<text x="451.2" y="640.3" font-size="53.5" fill="#000" font-family="Liberation Serif, 'Times New Roman', serif">w/o</text>
<line x1="329.9" y1="684" x2="443.4" y2="684" stroke="#D95319" stroke-width="3"/>
<text x="450.8" y="704.3" font-size="53.5" fill="#000" font-family="Liberation Serif, 'Times New Roman', serif">5%</text>
<line x1="329.9" y1="749.2" x2="443.4" y2="749.2" stroke="#EDB120" stroke-width="3"/>
<text x="450.8" y="767.6" font-size="53.5" fill="#000" font-family="Liberation Serif, 'Times New Roman', serif">10%</text>
<line x1="329.9" y1="811.5" x2="443.4" y2="811.5" stroke="#7E2F8E" stroke-width="3"/>
<text x="450.8" y="829.8" font-size="53.5" fill="#000" font-family="Liberation Serif, 'Times New Roman', serif">15%</text>
<line x1="329.9" y1="876.8" x2="443.4" y2="876.8" stroke="#77AC30" stroke-width="3"/>
<text x="450.8" y="894.4" font-size="53.5" fill="#000" font-family="Liberation Serif, 'Times New Roman', serif">20%</text>
<rect x="1532.3" y="703.9" width="484.8" height="206.5" fill="#fff" stroke="#262626" stroke-width="2.5"/>
<line x1="1532.3" y1="774.5" x2="2017.1" y2="774.5" stroke="#262626" stroke-width="2.5"/>
<text x="1774.7" y="759.3" font-size="52" text-anchor="middle" fill="#000" font-family="Liberation Serif, 'Times New Roman', serif">AMCC Index</text>
<line x1="1543" y1="811.6" x2="1656.3" y2="811.6" stroke="#D95319" stroke-width="3"/>
<text x="1664.1" y="832.2" font-size="53.5" fill="#000" font-family="Liberation Serif, 'Times New Roman', serif">5%</text>
<line x1="1786.5" y1="811.6" x2="1899.8" y2="811.6" stroke="#7E2F8E" stroke-width="3"/>
<text x="1908.9" y="832.2" font-size="53.5" fill="#000" font-family="Liberation Serif, 'Times New Roman', serif">15%</text>
<line x1="1543" y1="876.6" x2="1656.3" y2="876.6" stroke="#EDB120" stroke-width="3"/>
<text x="1664.1" y="894.5" font-size="53.5" fill="#000" font-family="Liberation Serif, 'Times New Roman', serif">10%</text>
<line x1="1786.5" y1="876.6" x2="1899.8" y2="876.6" stroke="#77AC30" stroke-width="3"/>
<text x="1908.9" y="894.5" font-size="53.5" fill="#000" font-family="Liberation Serif, 'Times New Roman', serif">20%</text>
</svg>
</body></html>
